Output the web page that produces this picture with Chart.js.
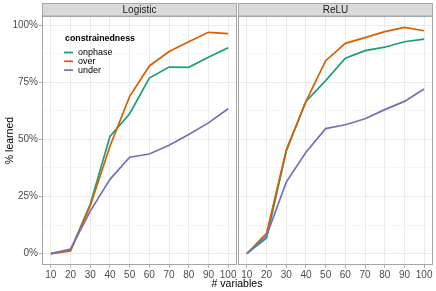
<!DOCTYPE html>
<html>
<head>
<meta charset="utf-8">
<script src="https://cdn.jsdelivr.net/npm/chart.js@4"></script>
<style>
  body { margin: 0; background: #fff; }
  #wrap { position: relative; width: 436px; height: 291px; }
  #wrap canvas { position: absolute; left: 0; top: 0; }
  #xtitle { position: absolute; left: 0; width: 474px; top: 277px; text-align: center;
    font: 10.5px "Liberation Sans", Arial, sans-serif; color: #000; }
</style>
</head>
<body>
<div id="wrap">
  <canvas id="left" width="436" height="291"></canvas>
  <canvas id="right" width="436" height="291"></canvas>
  <div id="xtitle"># variables</div>
</div>
<script>
// data (% learned)
const variables = [10, 20, 30, 40, 50, 60, 70, 80, 90, 100];
const groups = ['onphase', 'over', 'under'];
const colors = ['#1b9e77', '#d95f02', '#7570b3'];
const panels = ['Logistic', 'ReLU'];

const logisticOnphase = [0, 1.5, 21.6, 51.3, 61.2, 76.8, 81.6, 81.5, 85.9, 90.1];
const logisticOver    = [0, 1.2, 21.0, 47.0, 68.8, 82.1, 88.4, 92.7, 96.8, 96.2];
const logisticUnder   = [0, 2.0, 18.6, 32.5, 42.2, 43.6, 47.4, 52.1, 57.2, 63.4];

const reluOnphase = [0, 6.8, 44.8, 66.6, 75.7, 85.5, 88.8, 90.3, 92.7, 93.8];
const reluOver    = [0, 8.9, 45.5, 66.6, 84.4, 92.0, 94.5, 97.1, 99.0, 97.5];
const reluUnder   = [0, 7.8, 31.3, 44.4, 54.7, 56.4, 59.0, 63.0, 66.6, 72.0];

const yTicks = [0, 12.5, 25, 37.5, 50, 62.5, 75, 87.5, 100];
const FONT = '"Liberation Sans", Arial, sans-serif';

function makeSets(series) {
  return series.map((vals, i) => ({
    label: groups[i],
    data: variables.map((x, j) => ({ x: x, y: vals[j] })),
    borderColor: colors[i],
    backgroundColor: colors[i],
    borderWidth: 1.7,
    pointRadius: 0,
    tension: 0,
    order: 2 - i   // under drawn on top
  }));
}

// grey strip on top + panel border
const facetPlugin = {
  id: 'facet',
  afterDraw(chart, args, opts) {
    const { ctx, chartArea: a } = chart;
    ctx.save();
    ctx.fillStyle = '#d9d9d9';
    ctx.fillRect(a.left, 3, a.right - a.left, a.top - 3);
    ctx.strokeStyle = '#a6a6a6';
    ctx.lineWidth = 1;
    ctx.strokeRect(a.left + 0.5, 3.5, a.right - a.left - 1, a.top - 3.5);
    ctx.strokeRect(a.left + 0.5, a.top + 0.5, a.right - a.left - 1, a.bottom - a.top - 1);
    ctx.fillStyle = '#1a1a1a';
    ctx.font = '10px ' + FONT;
    ctx.textAlign = 'center';
    ctx.textBaseline = 'middle';
    ctx.fillText(opts.text, (a.left + a.right) / 2, 10);
    ctx.restore();
  }
};

const legendPlugin = {
  id: 'innerLegend',
  afterDatasetsDraw(chart, args, opts) {
    if (!opts.show) return;
    const ctx = chart.ctx;
    ctx.save();
    ctx.textBaseline = 'middle';
    ctx.textAlign = 'left';
    ctx.fillStyle = '#000';
    ctx.font = 'bold 8.8px ' + FONT;
    ctx.fillText('constrainedness', 65, 39);
    ctx.font = '9px ' + FONT;
    groups.forEach((g, i) => {
      const y = 52.5 + i * 8.8;
      ctx.strokeStyle = colors[i];
      ctx.lineWidth = 1.7;
      ctx.beginPath();
      ctx.moveTo(64, y);
      ctx.lineTo(73, y);
      ctx.stroke();
      ctx.fillStyle = '#000';
      ctx.fillText(g, 78, y);
    });
    ctx.restore();
  }
};

function makeChart(id, title, series, isLeft) {
  return new Chart(document.getElementById(id), {
    type: 'line',
    data: { datasets: makeSets(series) },
    plugins: [facetPlugin, legendPlugin],
    options: {
      responsive: false,
      animation: false,
      events: [],
      layout: { padding: isLeft ? { left: 0, right: 199, top: 16, bottom: 0 }
                                : { left: 238, right: 3, top: 16, bottom: 0 } },
      plugins: {
        legend: { display: false },
        tooltip: { enabled: false },
        facet: { text: title },
        innerLegend: { show: isLeft }
      },
      scales: {
        x: {
          type: 'linear',
          min: 5.5, max: 104.5,
          afterBuildTicks: s => { s.ticks = variables.map(v => ({ value: v })); },
          afterFit: s => { s.height = 26; },
          border: { display: false },
          grid: { color: '#ebebeb', tickColor: '#b3b3b3', tickLength: 3 },
          ticks: { color: '#4d4d4d', font: { family: FONT, size: 10 }, padding: 1,
                   maxRotation: 0, autoSkip: false }
        },
        y: {
          min: -4.95, max: 103.95,
          afterBuildTicks: s => { s.ticks = yTicks.map(v => ({ value: v })); },
          afterFit: s => { s.width = isLeft ? 42 : 0; },
          border: { display: false },
          grid: {
            color: c => (c.tick && c.tick.value % 25 === 0) ? '#ebebeb' : '#f6f6f6',
            tickColor: c => (isLeft && c.tick && c.tick.value % 25 === 0) ? '#b3b3b3' : 'rgba(0,0,0,0)',
            tickLength: isLeft ? 3 : 0,
            drawTicks: isLeft
          },
          ticks: {
            display: isLeft,
            color: '#4d4d4d', font: { family: FONT, size: 10 }, padding: 1,
            callback: v => (v % 25 === 0 ? v + '%' : '')
          },
          title: {
            display: isLeft, text: '% learned', color: '#000',
            font: { family: FONT, size: 10.5 }, padding: { top: 4, bottom: 0 }
          }
        }
      }
    }
  });
}

makeChart('left', panels[0], [logisticOnphase, logisticOver, logisticUnder], true);
makeChart('right', panels[1], [reluOnphase, reluOver, reluUnder], false);
</script>
</body>
</html>
